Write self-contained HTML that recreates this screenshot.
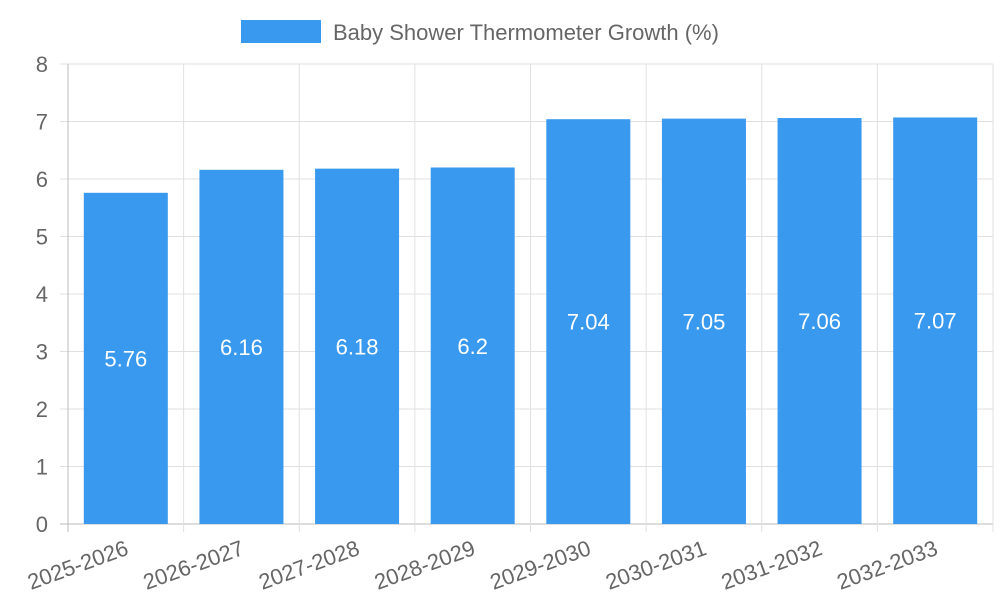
<!DOCTYPE html>
<html><head><meta charset="utf-8"><style>
body{margin:0;background:#fff;}
svg{display:block;font-family:"Liberation Sans",sans-serif;}
</style></head><body>
<svg id="chart" width="1000" height="600">
<g>
<rect x="241" y="20" width="80" height="23" fill="#3899ef"></rect>
<text x="333" y="40" font-size="22" fill="#666">Baby Shower Thermometer Growth (%)</text>
</g>
<g id="grid"></g><g id="bars"></g><g id="labels"></g>
</svg>
<script>
const categories=["2025-2026","2026-2027","2027-2028","2028-2029","2029-2030","2030-2031","2031-2032","2032-2033"];
const values=[5.76,6.16,6.18,6.2,7.04,7.05,7.06,7.07];
const yTicks=[0,1,2,3,4,5,6,7,8];
const NS="http://www.w3.org/2000/svg";
const L=68,R=993,T=64,B=524,yMax=8;
const bw=(R-L)/categories.length;
const x=i=>L+i*bw;
const y=v=>B-(v/yMax)*(B-T);
const grid=document.getElementById('grid'),bars=document.getElementById('bars'),labels=document.getElementById('labels');
function mk(tag,attrs,parent){const e=document.createElementNS(NS,tag);for(const k in attrs)e.setAttribute(k,attrs[k]);parent.appendChild(e);return e;}
yTicks.forEach(t=>{
  const l=mk('line',{x1:L-8,x2:R,y1:y(t),y2:y(t),stroke:t===0?'#bbb':'#e0e0e0','stroke-width':1},grid);
  
  
  const tx=mk('text',{x:L-20,y:y(t)+8,'font-size':22,fill:'#666','text-anchor':'end'},grid);
  tx.textContent=t;
  
  
});
for(let i=0;i<=categories.length;i++){
  const l=mk('line',{x1:x(i),x2:x(i),y1:T,y2:B+8,stroke:i===0?'#bbb':'#e0e0e0','stroke-width':1},grid);
  
  
}
categories.forEach((c,i)=>{
  const cx=x(i)+bw/2, w=84;
  const r=mk('rect',{x:cx-w/2,y:y(values[i]),width:w,height:B-y(values[i]),fill:'#3899ef'},bars);
  
  
  const v=mk('text',{x:cx,y:(y(values[i])+B)/2+8,'font-size':22,fill:'#fff','text-anchor':'middle'},labels);
  v.textContent=values[i];
  
  
  const tl=mk('text',{x:cx+4,y:B+30,'font-size':22,fill:'#666','text-anchor':'end',transform:`rotate(-20 ${cx+4} ${B+30})`},labels);
  tl.textContent=c;
  
  
});
</script>
</body></html>
